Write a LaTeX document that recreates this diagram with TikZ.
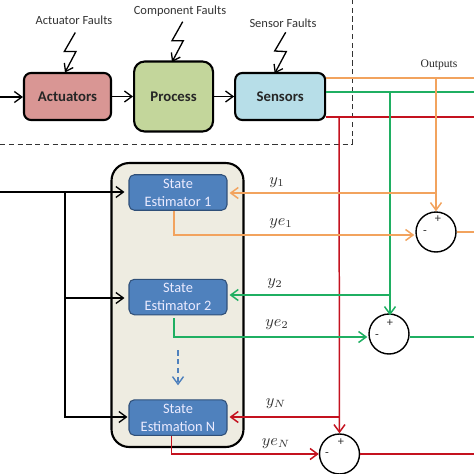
\documentclass[tikz,border=0pt]{standalone}
\usepackage{amsmath,amssymb}
\usepackage{fontspec}
\setmainfont{Carlito}
\newfontfamily\serifout{Liberation Serif}
\usepackage{xcolor}
\definecolor{actfill}{HTML}{D99694}
\definecolor{procfill}{HTML}{C3D69B}
\definecolor{sensfill}{HTML}{B7DEE8}
\definecolor{bankfill}{HTML}{EEECE1}
\definecolor{estfill}{HTML}{4F81BD}
\definecolor{estline}{HTML}{2F4F78}
\definecolor{orangeline}{HTML}{F2A35E}
\definecolor{greenline}{HTML}{1FAF62}
\definecolor{redline}{HTML}{C4121F}
\usetikzlibrary{positioning,arrows.meta}
\tikzset{
  plant/.style={draw=black, line width=1.2pt, rounded corners=4pt, align=center, font=\fontsize{8.4}{11}\selectfont\bfseries, text=black!85, inner sep=0pt},
  est/.style={draw=estline, line width=0.6pt, fill=estfill, rounded corners=3pt, align=center, text=white!92!blue, font=\fontsize{8.2}{10.3}\selectfont, minimum width=1.96cm, minimum height=0.71cm, inner sep=0pt},
  sumnode/.style={circle, draw=black, line width=0.8pt, fill=white, minimum size=0.8cm, inner sep=0pt},
  sign/.style={font=\fontsize{7}{8}\selectfont, text=black!80, inner sep=0pt},
  faultlabel/.style={font=\fontsize{7.1}{9}\selectfont, text=black!80, inner sep=0pt},
  siglabel/.style={font=\fontsize{9}{11}\selectfont, text=black!80, inner sep=0pt},
  edge/.style={-{Straight Barb[length=1.5mm,width=2.2mm]}, black, line width=0.75pt},
  plain/.style={black, line width=0.75pt},
  bolt/.style={-{Straight Barb[length=1.4mm,width=2mm]}, black, line width=0.75pt},
  sigo/.style={orangeline, line width=0.85pt},
  sigg/.style={greenline, line width=0.85pt},
  sigr/.style={redline, line width=0.85pt},
  tip/.style={-{Straight Barb[length=1.5mm,width=2.2mm]}},
}

\begin{document}
\begin{tikzpicture}[x=0.02cm, y=-0.02cm]
  \useasboundingbox (0,0) rectangle (474,474);
  % plant row
  \node[plant, fill=actfill, minimum width=1.74cm, minimum height=0.94cm] (act) at (67.5,96.5) {Actuators};
  \node[plant, fill=procfill, minimum width=1.58cm, minimum height=1.4cm, rounded corners=6pt, right=0.42cm of act] (proc) {Process};
  \node[plant, fill=sensfill, minimum width=1.8cm, minimum height=0.94cm, right=0.4cm of proc] (sens) {Sensors};
  \coordinate (inp) at (0,97);
  \draw[edge] (inp) -- (act.west |- inp);
  \draw[edge] (act) -- (proc);
  \draw[edge] (proc) -- (sens);
  % plant boundary
  \coordinate (bndA) at (0,144); \coordinate (bndB) at (352,144); \coordinate (bndC) at (352,0);
  \draw[black!80, densely dashed, line width=0.5pt] (bndA) -- (bndB) -- (bndC);
  % faults
  \node[faultlabel] (fa) at (74,20) {Actuator Faults};
  \node[faultlabel] (fc) at (180,11) {Component Faults};
  \node[faultlabel] (fs) at (283,23) {Sensor Faults};
  \coordinate (ba) at (75.3,32.5); \coordinate (bc) at (182.7,21.7); \coordinate (bs) at (285.7,32.3);
  \draw[bolt] (ba) -- ++(-11,19) -- ++(11.7,0) -- (65,72.5);
  \draw[bolt] (bc) -- ++(-10.7,19) -- ++(11.3,0) -- (172,62);
  \draw[bolt] (bs) -- ++(-11,18.7) -- ++(11.6,0.6) -- (274.7,73.5);
  \node[font=\serifout\fontsize{6.6}{9}\selectfont, text=black!85, inner sep=0pt] (outs) at (439,65) {Outputs};
  % estimator bank
  \node[draw=black, line width=1.2pt, fill=bankfill, rounded corners=10pt, minimum width=2.64cm, minimum height=5.68cm, inner sep=0pt] (bank) at (177.5,305) {};
  \node[est] (est1) at (178,192.5) {State\\Estimator 1};
  \node[est, below=1.36cm of est1] (est2) {State\\Estimator 2};
  \node[est, below=1.68cm of est2] (estN) {State\\Estimation N};
  \draw[estfill, densely dashed, line width=0.8pt, tip] ([yshift=-0.7cm]est2.south) -- ([yshift=0.28cm]estN.north);
  % sums
  \node[sumnode] (sum1) at (436,232) {};
  \node[sumnode] (sum2) at (389,334) {};
  \node[sumnode] (sum3) at (339.5,454) {};
  \node[sign] (p1) at (438,219) {+}; \node[sign] (m1) at (425,233) {-};
  \node[sign] (p2) at (390,323) {+}; \node[sign] (m2) at (377,337) {-};
  \node[sign] (p3) at (341,442) {+}; \node[sign] (m3) at (327,455) {-};
  % left inputs
  \coordinate (in1) at (0,192); \coordinate (jt1) at (65,192); \coordinate (jt2) at (65,298); \coordinate (jt3) at (65,417);
  \draw[edge] (in1) -- ([xshift=-0.08cm]est1.west |- in1);
  \draw[edge] (jt2) -- ([xshift=-0.08cm]est2.west |- jt2);
  \draw[edge] (jt1) -- (jt3) -- ([xshift=-0.02cm]estN.west |- jt3);
  % outputs
  \coordinate (oo) at (474,78); \coordinate (og) at (474,92); \coordinate (or) at (474,117);
  \coordinate (bo) at (436,78); \coordinate (bg) at (390,92); \coordinate (br) at (339,117);
  \coordinate (yo) at (436,193); \coordinate (yg) at (390,295); \coordinate (yr) at (339,417);
  \draw[sigo] (sens.east |- oo) -- (oo);
  \draw[sigg] (sens.east |- og) -- (og);
  \draw[sigr] (sens.east |- or) -- (or);
  % red first so the others cross over it
  \draw[sigr, tip] (br) -- (sum3.north);
  \draw[sigr, tip] (yr) -- ([xshift=0.04cm]estN.east |- yr);
  \draw[sigg, tip] (bg) -- ([yshift=-0.04cm]sum2.north -| bg);
  \draw[sigg, tip] (yg) -- ([xshift=0.04cm]est2.east |- yg);
  \draw[sigo] (bo) -- (yo);
  \draw[sigo, tip] (yo) -- (sum1.north);
  \draw[sigo, tip] (yo) -- ([xshift=0.04cm]est1.east |- yo);
  % residuals
  \coordinate (e1) at (174,235); \coordinate (e2) at (174,337); \coordinate (e3) at (171.5,454);
  \draw[sigo, tip] (est1.south -| e1) -- (e1) -- ([xshift=-0.02cm]sum1.west |- e1);
  \draw[sigg, tip] (est2.south -| e2) ++(0,3) -- (e2) -- ([xshift=-0.02cm]sum2.west |- e2);
  \draw[sigr, tip] (estN.south -| e3) -- (e3) -- (sum3.west);
  \coordinate (r1) at (474,232); \coordinate (r2) at (474,337); \coordinate (r3) at (474,454);
  \draw[sigo] (sum1.east) -- (r1);
  \draw[sigg] (sum2.east |- r2) -- (r2);
  \draw[sigr] (sum3.east) -- (r3);
  % signal labels
  \node[siglabel] (ly1) at (277,183) {$y_1$};
  \node[siglabel] (le1) at (281,224) {$ye_1$};
  \node[siglabel] (ly2) at (275,284) {$y_2$};
  \node[siglabel] (le2) at (277,325) {$ye_2$};
  \node[siglabel] (lyN) at (276,404) {$y_N$};
  \node[siglabel] (leN) at (276,444) {$ye_N$};
\end{tikzpicture}
\end{document}
